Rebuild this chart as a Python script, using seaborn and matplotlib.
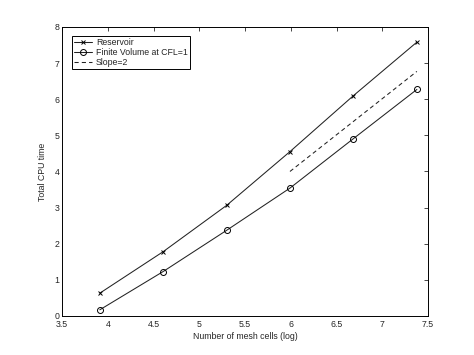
import numpy as np
import pandas as pd
import matplotlib
matplotlib.use("Agg")
import matplotlib.pyplot as plt
import seaborn as sns

# data (x = log of mesh cells)
mesh_log = [3.912, 4.605, 5.298, 5.991, 6.685, 7.378]
reservoir = [0.63, 1.78, 3.06, 4.55, 6.10, 7.58]
finite_volume = [0.17, 1.23, 2.37, 3.54, 4.91, 6.27]
slope_x = [5.991, 7.378]
slope_y = [4.00, 6.77]

sns.set_style("white")
plt.rcParams['font.family'] = ['Liberation Sans', 'DejaVu Sans']
plt.rcParams['xtick.direction'] = 'in'
plt.rcParams['ytick.direction'] = 'in'

fig = plt.figure(figsize=(4.74, 3.55), dpi=100)
ax = fig.add_axes([0.131, 0.11, 0.772, 0.814])

sns.lineplot(x=mesh_log, y=reservoir, ax=ax, color='#222222', lw=0.75,
             marker='x', markersize=3.2, mew=0.7, mec='black',
             label='Reservoir')
sns.lineplot(x=mesh_log, y=finite_volume, ax=ax, color='#222222', lw=0.75,
             marker='o', markersize=4.3, mfc='none', mew=0.7, mec='black',
             label='Finite Volume at CFL=1')
sns.lineplot(x=slope_x, y=slope_y, ax=ax, color='#222222', lw=0.75,
             linestyle=(0, (4, 3)), label='Slope=2')

ax.set_xlim(3.5, 7.5)
ax.set_ylim(0, 8)
ax.set_xticks(np.arange(3.5, 7.6, 0.5))
ax.set_xticklabels(['3.5', '4', '4.5', '5', '5.5', '6', '6.5', '7', '7.5'])
ax.set_yticks(range(0, 9))
ax.tick_params(labelsize=6.3, top=True, right=True, length=3, width=0.6)
ax.tick_params(axis='x', pad=3)
ax.tick_params(axis='y', pad=2)
for s in ax.spines.values():
    s.set_linewidth(0.7)
    s.set_color('black')
ax.set_xlabel('Number of mesh cells (log)', fontsize=6.3, labelpad=2)
ax.set_ylabel('Total CPU time', fontsize=6.3, labelpad=5)

leg = ax.legend(loc='upper left', fontsize=6.3, fancybox=False, framealpha=1,
                edgecolor='black', handlelength=2, borderpad=0.25,
                labelspacing=0.1, handletextpad=0.5,
                bbox_to_anchor=(0.015, 0.985))
leg.get_frame().set_linewidth(0.7)

fig.savefig('out.png', dpi=100)
